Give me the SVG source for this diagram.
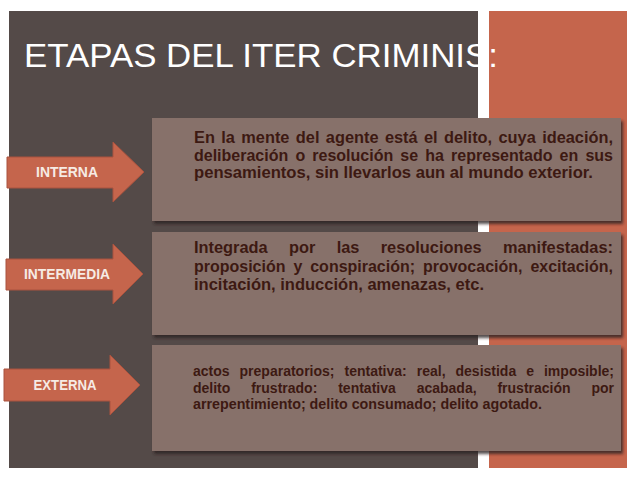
<svg xmlns="http://www.w3.org/2000/svg" width="638" height="479" viewBox="0 0 638 479">
<defs>
<filter id="sh" x="-5%" y="-10%" width="115%" height="130%">
<feDropShadow dx="2" dy="3" stdDeviation="1.5" flood-color="#2a2220" flood-opacity="0.8"/>
</filter>
<style>
.box{fill:#87716b;filter:url(#sh)}
.arr{fill:#c5654c;stroke:#a9523e;stroke-width:1}
.lbl{font-family:"Liberation Sans",Arial,sans-serif;font-size:14px;font-weight:bold;fill:#f6ebe4;text-anchor:middle}
.t{font-family:"Liberation Sans",Arial,sans-serif;font-weight:bold;font-size:16px;fill:#3d1912}
.t3{font-family:"Liberation Sans",Arial,sans-serif;font-weight:bold;font-size:14px;fill:#3d1912}
.title{font-family:"Liberation Sans",Arial,sans-serif;font-size:33px;fill:#ffffff}
</style>
</defs>
<rect width="638" height="479" fill="#ffffff"/>
<rect x="9" y="11" width="469" height="457" fill="#544a48"/>
<rect x="489" y="11" width="138" height="457" fill="#c5654c"/>
<text class="title" x="24" y="67" textLength="474" lengthAdjust="spacingAndGlyphs">ETAPAS DEL ITER CRIMINIS:</text>
<rect x="478" y="11" width="11" height="457" fill="#ffffff"/>

<g id="node-interna">
<polygon class="arr" points="7,157 113,157 113,142 144,172 113,202 113,188 7,188"/>
<text class="lbl" x="67" y="177" textLength="62" lengthAdjust="spacingAndGlyphs">INTERNA</text>
</g>
<g id="node-intermedia">
<polygon class="arr" points="6,259 113,259 113,244 143,274 113,304 113,290 6,290"/>
<text class="lbl" x="67" y="279" textLength="86" lengthAdjust="spacingAndGlyphs">INTERMEDIA</text>
</g>
<g id="node-externa">
<polygon class="arr" points="4,369 110,369 110,355 140,385 110,415 110,401 4,401"/>
<text class="lbl" x="65" y="390" textLength="63" lengthAdjust="spacingAndGlyphs">EXTERNA</text>
</g>

<g id="node-box1">
<rect class="box" x="152" y="118" width="469" height="103"/>
<text class="t" x="194" y="143" word-spacing="1.8" textLength="419" lengthAdjust="spacingAndGlyphs">En la mente del agente está el delito, cuya ideación,</text>
<text class="t" x="194" y="161" word-spacing="2.7" textLength="419" lengthAdjust="spacingAndGlyphs">deliberación o resolución se ha representado en sus</text>
<text class="t" x="194" y="178" textLength="399" lengthAdjust="spacingAndGlyphs">pensamientos, sin llevarlos aun al mundo exterior.</text>
</g>
<g id="node-box2">
<rect class="box" x="152" y="232" width="469" height="103"/>
<text class="t" x="194" y="253" word-spacing="16.4" textLength="419" lengthAdjust="spacingAndGlyphs">Integrada por las resoluciones manifestadas:</text>
<text class="t" x="194" y="272" word-spacing="3.5" textLength="419" lengthAdjust="spacingAndGlyphs">proposición y conspiración; provocación, excitación,</text>
<text class="t" x="194" y="290" textLength="290" lengthAdjust="spacingAndGlyphs">incitación, inducción, amenazas, etc.</text>
</g>
<g id="node-box3">
<rect class="box" x="152" y="345" width="469" height="106"/>
<text class="t3" x="193" y="376" word-spacing="6.1" textLength="421" lengthAdjust="spacingAndGlyphs">actos preparatorios; tentativa: real, desistida e imposible;</text>
<text class="t3" x="193" y="393" word-spacing="17" textLength="421" lengthAdjust="spacingAndGlyphs">delito frustrado: tentativa acabada, frustración por</text>
<text class="t3" x="193" y="409" textLength="349" lengthAdjust="spacingAndGlyphs">arrepentimiento; delito consumado; delito agotado.</text>
</g>
<g id="connectors"></g>
</svg>
